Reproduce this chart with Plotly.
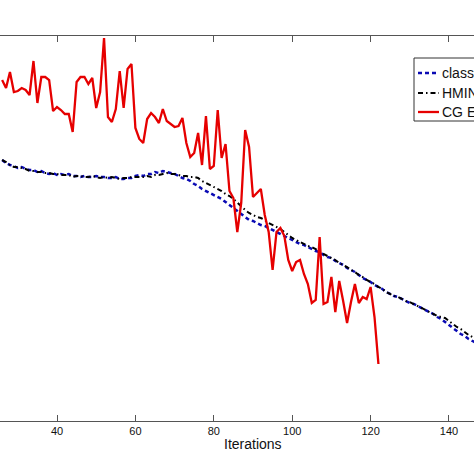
import plotly.graph_objects as go

# Iterations for the two smooth methods and for the CG method
iters_smooth = list(range(26, 148))
iters_cg = list(range(26, 123))

classical = [26.1, 25.8, 25.6, 25.5, 25.3, 25.4, 25.2, 25.1, 25.1, 24.9,
             25.0, 24.8, 24.7, 24.8, 24.6, 24.7, 24.6, 24.7, 24.5, 24.5,
             24.4, 24.5, 24.4, 24.4, 24.5, 24.4, 24.4, 24.3, 24.3, 24.4,
             24.2, 24.2, 24.3, 24.3, 24.5, 24.6, 24.5, 24.7, 24.7, 24.9,
             24.8, 25.0, 24.9, 24.8, 24.7, 24.5, 24.3, 24.2, 24.0, 23.7,
             23.5, 23.2, 23.0, 22.8, 22.6, 22.4, 22.2, 21.9, 21.6, 21.3,
             21.0, 20.7, 20.4, 20.1, 20.0, 19.8, 19.6, 19.5, 19.3, 19.1,
             18.9, 18.7, 18.5, 18.3, 18.1, 17.9, 17.7, 17.6, 17.4, 17.2,
             17.0, 16.9, 16.6, 16.4, 16.3, 16.0, 15.8, 15.6, 15.3, 15.1,
             14.9, 14.6, 14.3, 14.1, 13.9, 13.6, 13.4, 13.2, 12.9, 12.7,
             12.5, 12.4, 12.2, 12.0, 11.8, 11.7, 11.5, 11.3, 11.1, 10.9,
             10.7, 10.4, 10.2, 9.9, 9.6, 9.3, 9.0, 8.7, 8.5, 8.2,
             8.0, 7.8]

hmin = [26.1, 25.9, 25.6, 25.4, 25.4, 25.3, 25.2, 25.0, 25.0, 24.9,
        24.9, 24.8, 24.8, 24.7, 24.7, 24.6, 24.6, 24.6, 24.4, 24.5,
        24.5, 24.4, 24.4, 24.5, 24.4, 24.3, 24.4, 24.3, 24.4, 24.3,
        24.2, 24.3, 24.3, 24.4, 24.4, 24.4, 24.4, 24.5, 24.4, 24.6,
        24.6, 24.7, 24.8, 24.7, 24.7, 24.6, 24.5, 24.5, 24.4, 24.4,
        24.3, 24.0, 23.8, 23.6, 23.4, 23.2, 23.0, 22.7, 22.5, 22.2,
        21.8, 21.5, 21.1, 20.8, 20.6, 20.4, 20.3, 20.1, 19.8, 19.6,
        19.4, 19.2, 18.9, 18.6, 18.3, 18.1, 17.9, 17.7, 17.5, 17.4,
        17.2, 16.9, 16.7, 16.5, 16.3, 16.1, 15.8, 15.6, 15.4, 15.1,
        14.9, 14.6, 14.4, 14.1, 13.9, 13.7, 13.4, 13.2, 12.9, 12.7,
        12.5, 12.4, 12.2, 12.0, 11.9, 11.7, 11.5, 11.3, 11.1, 10.9,
        10.7, 10.5, 10.4, 10.3, 10.0, 9.7, 9.4, 9.2, 8.9, 8.6,
        8.4, 8.2]

cg = [34.1, 33.3, 34.9, 32.9, 33.0, 33.3, 33.1, 32.6, 36.0, 31.8,
      34.4, 34.4, 34.1, 31.0, 31.4, 31.1, 30.7, 30.7, 28.9, 33.9,
      34.4, 34.4, 33.7, 34.3, 31.3, 32.9, 38.3, 30.4, 29.9, 31.2,
      35.0, 31.3, 35.2, 35.7, 29.3, 28.2, 27.8, 30.2, 30.8, 30.4,
      29.8, 31.2, 30.0, 29.7, 29.4, 29.5, 30.3, 27.8, 26.4, 26.8,
      28.8, 25.6, 30.5, 25.2, 25.5, 31.1, 26.3, 27.7, 23.0, 22.3,
      18.9, 21.8, 29.1, 27.4, 22.4, 22.8, 23.2, 20.6, 18.9, 15.1,
      18.9, 19.3, 18.5, 16.1, 15.0, 15.9, 16.1, 14.7, 13.7, 11.8,
      12.1, 18.4, 11.7, 11.9, 14.4, 10.9, 14.0, 12.0, 9.8, 11.9,
      13.7, 11.8, 12.4, 12.2, 13.4, 10.4, 5.7]

tick_values = [40, 60, 80, 100, 120, 140]
legend_names = ["classical", "HMINRES", "CG Euclid"]

BLUE = "#0a0ab4"
BLACK = "#000000"
RED = "#e60000"
AXIS = "#555555"
FONT = "Liberation Sans, Arial, sans-serif"

fig = go.Figure()
fig.add_trace(go.Scatter(x=iters_smooth, y=classical, mode="lines",
                         line=dict(color=BLUE, width=2.5, dash="4px,3px"),
                         showlegend=False))
fig.add_trace(go.Scatter(x=iters_smooth, y=hmin, mode="lines",
                         line=dict(color=BLACK, width=2, dash="5px,3px,1.5px,3px"),
                         showlegend=False))
fig.add_trace(go.Scatter(x=iters_cg, y=cg, mode="lines",
                         line=dict(color=RED, width=2.3),
                         showlegend=False))

W, H = 474, 474
top, bottom = 36, 421
plot_h = bottom - top


def py(p):
    return (bottom - p) / plot_h


def px(p):
    return p / W


# legend box (partially cut off at the right edge, as in the reference)
fig.add_shape(type="rect", xref="paper", yref="paper",
              x0=px(414), x1=px(530), y0=py(121), y1=py(58),
              line=dict(color="#333333", width=1), fillcolor="white", layer="above")
legend_styles = [dict(color=BLUE, width=2.5, dash="4px,3px"),
                 dict(color=BLACK, width=2, dash="5px,3px,1.5px,3px"),
                 dict(color=RED, width=2.3)]
legend_y = [73, 93, 112]
for name, st, yy in zip(legend_names, legend_styles, legend_y):
    fig.add_shape(type="line", xref="paper", yref="paper",
                  x0=px(418), x1=px(439), y0=py(yy), y1=py(yy),
                  line=st, layer="above")
    fig.add_annotation(x=px(440), y=py(yy), xref="paper", yref="paper",
                       text=name, showarrow=False, xanchor="left", yanchor="middle",
                       font=dict(family=FONT, size=14, color="#111111"))

fig.add_annotation(x=90, y=py(444), xref="x", yref="paper", text="Iterations",
                   showarrow=False, xanchor="center", yanchor="middle",
                   font=dict(family=FONT, size=14, color="#111111"))

fig.update_layout(
    width=W, height=H,
    margin=dict(l=0, r=0, t=top, b=H - bottom, autoexpand=False),
    paper_bgcolor="white", plot_bgcolor="white",
    showlegend=False,
    xaxis=dict(range=[25.46, 146.38], tickvals=tick_values,
               ticks="inside", ticklen=6, tickcolor=AXIS, tickwidth=1,
               showline=True, linecolor=AXIS, linewidth=1, mirror="ticks",
               showgrid=False, zeroline=False,
               tickfont=dict(family=FONT, size=11, color="#111111")),
    yaxis=dict(range=[0, 38.5], showticklabels=False, showgrid=False,
               zeroline=False, showline=False, ticks=""),
)

fig.write_html("out.html")
